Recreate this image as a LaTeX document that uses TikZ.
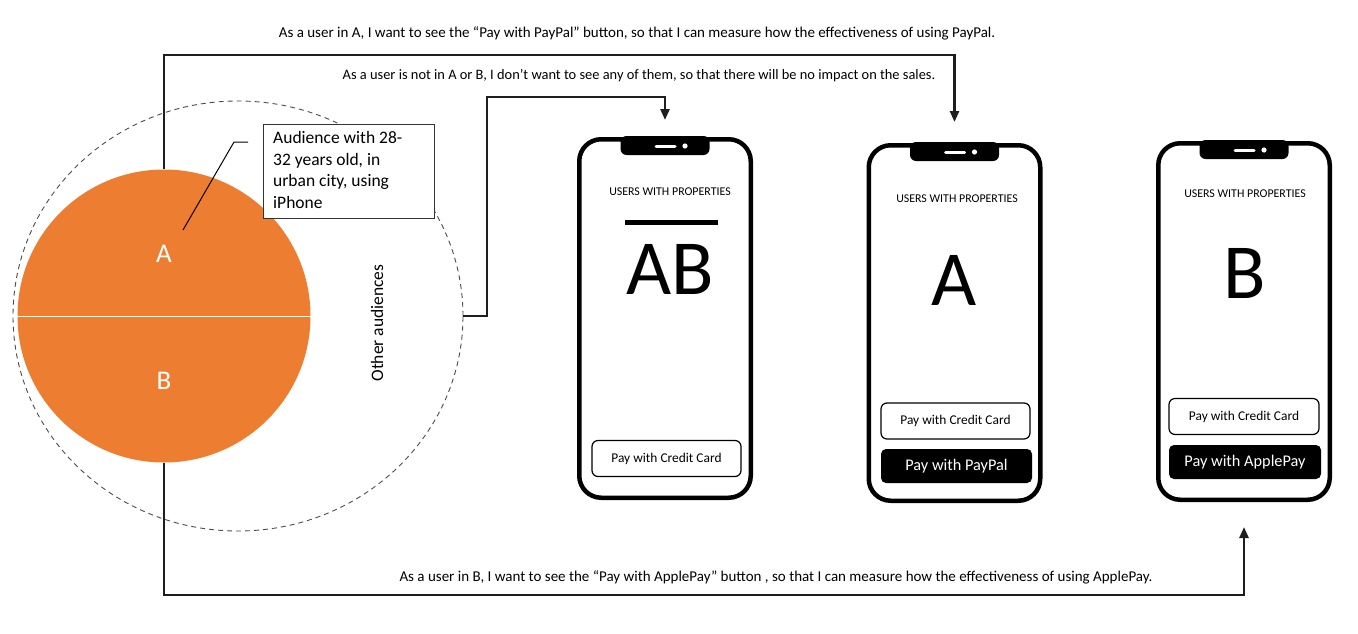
\documentclass[tikz,border=0pt]{standalone}
\usepackage{fontspec}
\setmainfont{Carlito}
\usetikzlibrary{arrows.meta,shapes.geometric,calc}
\definecolor{orangeA}{HTML}{ED7D31}
\definecolor{linec}{HTML}{1E1E1E}
\newcommand\phonedraw[4]{%
  \node[phone, minimum height={#4-#3-4.5}] (#1) at (#2,{(#3+#4)/2}) {};
  \fill[black, rounded corners=6pt] ({#2-44.5},{#3-1}) -- ({#2-44.5},{#3+18}) -- ({#2+44.5},{#3+18}) -- ({#2+44.5},{#3-1}) -- cycle;
  \draw[white, line width=3pt, line cap=round] ({#2-9},{#3+9}) -- ({#2+10},{#3+9});
  \fill[white] ({#2+20},{#3+9}) circle (2.6pt);
}
\begin{document}
\begin{tikzpicture}[x=1pt,y=-1pt,
  conn/.style={draw=linec, line width=2.4pt, -{Triangle[width=9pt,length=11pt]}},
  capt/.style={font=\fontsize{15}{18}\selectfont, inner sep=0pt, text=black},
  phone/.style={draw=black, line width=4.5pt, rounded corners=22pt, minimum width=171.5pt, fill=white, inner sep=0pt},
  users/.style={font=\fontsize{11.9}{14}\selectfont, inner sep=0pt},
  big/.style={font=\fontsize{78}{80}\selectfont, inner sep=0pt},
  ccbtn/.style={draw=black, line width=1.2pt, rounded corners=6pt, fill=white, minimum width=149pt, minimum height=36pt, inner sep=0pt, font=\fontsize{13.4}{16}\selectfont},
  paybtn/.style={fill=black, text=white, rounded corners=5pt, minimum width=151pt, minimum height=34pt, inner sep=0pt, font=\fontsize{16.3}{19}\selectfont},
  lbl/.style={text=white, font=\fontsize{27}{30}\selectfont, inner sep=0pt}
]
\useasboundingbox (0,0) rectangle (1358,634);

% audiences
\node[ellipse, draw=black!70, dashed, dash pattern=on 5pt off 4pt, line width=0.9pt, minimum width=450pt, minimum height=430pt, inner sep=0pt] (other) at (238,316) {};
\node[circle, fill=orangeA, minimum size=293pt, inner sep=0pt] (orange) at (164,316) {};
\draw[white, line width=1pt] (orange.west) -- (orange.east);
\node[lbl] (la) at (164,254) {A};
\node[lbl] (lb) at (164,381) {B};
\node[rotate=90, font=\fontsize{17.5}{20}\selectfont, inner sep=0pt] (otherlbl) at (377,323) {Other audiences};

% callout
\node[draw=black!80, line width=1pt, fill=white, minimum width=171pt, minimum height=94pt, inner sep=0pt, anchor=north west] (callout) at (263,124) {};
\node[anchor=north west, align=left, inner sep=0pt, font=\fontsize{17.5}{21.7}\selectfont] (callouttext) at (273,131) {Audience with 28-\\32 years old, in\\urban city, using\\iPhone};
\coordinate (cstart) at (248,142);
\coordinate (celbow) at (234,142);
\coordinate (ctip) at (183,230);
\draw[black, line width=1pt] (cstart) -- (celbow) -- (ctip);

% phones
\phonedraw{phoneAB}{665}{137}{500}
\phonedraw{phoneA}{954.5}{143}{503}
\phonedraw{phoneB}{1244}{141}{502}

\node[users] (uAB) at (670,192) {USERS WITH PROPERTIES};
\node[users] (uA) at (957,199) {USERS WITH PROPERTIES};
\node[users] (uB) at (1245,194) {USERS WITH PROPERTIES};

\draw[black, line width=5pt] (625,222) -- (718,222);
\node[big] (bigAB) at (670,269) {AB};
\node[big] (bigA) at (954,280) {A};
\node[big] (bigB) at (1245,273) {B};

\node[ccbtn] (cc1) at (666.5,458.5) {Pay with Credit Card};
\node[ccbtn] (cc2) at (955.5,421) {Pay with Credit Card};
\node[paybtn] (pp) at (956.5,466) {Pay with PayPal};
\node[ccbtn, minimum width=150pt] (cc3) at (1244,416.5) {Pay with Credit Card};
\node[paybtn, minimum width=152pt] (ap) at (1245,462) {Pay with ApplePay};

% captions
\node[capt] (t1) at (637,33) {As a user in A, I want to see the “Pay with PayPal” button, so that I can measure how the effectiveness of using PayPal.};
\node[capt, font=\fontsize{14.4}{17}\selectfont] (t2) at (639,76) {As a user is not in A or B, I don’t want to see any of them, so that there will be no impact on the sales.};
\node[capt] (t3) at (776,577) {As a user in B, I want to see the “Pay with ApplePay” button , so that I can measure how the effectiveness of using ApplePay.};

% connectors
\coordinate (topY) at (0,55);
\coordinate (bend) at (487,97);
\coordinate (botY) at (0,595);
\draw[conn, shorten >=21pt] (orange.north) -- (orange.north |- topY) -| (phoneA.north);
\draw[conn, shorten >=17pt] (other.east) -| (bend) -| (phoneAB.north);
\draw[conn, shorten >=25pt] (orange.south) -- (orange.south |- botY) -| (phoneB.south);
\end{tikzpicture}
\end{document}
